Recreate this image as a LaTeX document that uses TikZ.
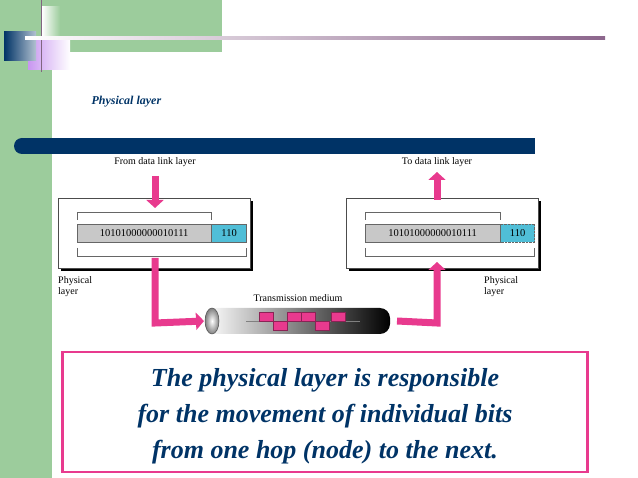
\documentclass[tikz,border=0pt]{standalone}
\usepackage{fontspec}
\setmainfont{Liberation Serif}
\usetikzlibrary{arrows.meta,shadings}
\definecolor{grn}{RGB}{156,204,156}
\definecolor{navy}{RGB}{0,51,102}
\definecolor{pnk}{RGB}{232,58,142}
\definecolor{cyn}{RGB}{80,190,215}
\definecolor{gry}{RGB}{200,200,200}
\definecolor{lav}{RGB}{200,150,240}
\tikzset{
  pkarrow/.style={draw=pnk,line width=7pt,-{Triangle[length=8pt,width=17pt]}},
  lbl/.style={font=\fontsize{10}{11}\selectfont,inner sep=0pt},
  layerbox/.style={draw=black!70,fill=white,line width=0.6pt},
  shadow/.style={fill=black},
  bits/.style={draw=black!60,fill=gry,inner sep=0pt,minimum height=18pt,font=\fontsize{10.5}{11}\selectfont},
  crc/.style={draw=black!60,fill=cyn,inner sep=0pt,minimum height=18pt,font=\fontsize{10.5}{11}\selectfont},
  brk/.style={draw=black!60,line width=0.5pt},
  sig/.style={fill=pnk,draw=pnk!60!black,line width=0.3pt}
}
\begin{document}
\begin{tikzpicture}[x=1pt,y=-1pt]
\useasboundingbox (0,0) rectangle (638,478);
% decoration
\fill[grn] (0,0) rectangle (52,478);
\fill[grn] (0,0) rectangle (222,52);
\shade[left color=white,right color=grn] (42,7) rectangle (60,38);
\shade[left color=lav,right color=white] (28,40) rectangle (70,70);
\shade[left color=navy,right color=navy!30] (4,32) rectangle (36,61);
\draw[gray!80!violet,line width=1pt] (41,0) -- (41,72);
\shade[left color=white,right color=black!50!violet!60] (25,37) rectangle (605,39.5);
\node[anchor=west,font=\bfseries\itshape\fontsize{12}{14}\selectfont,text=navy] (title) at (88,102) {Physical layer};
\fill[navy] (22,138) rectangle (535,154);
\fill[navy] (22,146) circle (8);
% labels
\node[lbl] (from) at (155,162) {From data link layer};
\node[lbl] (to) at (437,162) {To data link layer};
% boxes
\fill[shadow] (61,201) rectangle (253,271);
\node[layerbox,minimum width=192pt,minimum height=70pt,inner sep=0pt] (lbox) at (154,233) {};
\fill[shadow] (349,201) rectangle (541,271);
\node[layerbox,minimum width=192pt,minimum height=70pt,inner sep=0pt] (rbox) at (442,233) {};
% left data
\node[bits,minimum width=134pt,anchor=west] (lb) at (77,233) {10101000000010111};
\node[crc,minimum width=35pt,anchor=west] (lc) at (lb.east) {110};
\draw[brk] (77,220) -- (77,212) -- (211,212) -- (211,220);
\draw[brk] (77,248) -- (77,256) -- (246,256) -- (246,248);
% right data
\node[bits,minimum width=135pt,anchor=west] (rb) at (365,233) {10101000000010111};
\node[crc,minimum width=34pt,anchor=west,densely dotted] (rc) at (rb.east) {110};
\draw[brk] (365,220) -- (365,212) -- (500,212) -- (500,220);
\draw[brk] (365,248) -- (365,256) -- (534,256) -- (534,248);
% layer labels
\node[lbl,anchor=north west,align=left] (pl) at (58,276) {Physical\\layer};
\node[lbl,anchor=north west,align=left] (pr) at (484,276) {Physical\\layer};
\node[lbl] (tm) at (298,298) {Transmission medium};
% tube
\shade[left color=white,right color=black,rounded corners=10pt] (206,308) rectangle (390,334);
\shade[inner color=white,outer color=gray] (212,321) ellipse (7 and 13);
\draw[black!70,line width=0.5pt] (212,321) ellipse (7 and 13);
\coordinate (tubeL) at (204,321);
\coordinate (tubeR) at (397,321);
\draw[black!50,line width=0.4pt] (246,321) -- (360,321);
\fill[sig] (259,312) rectangle (273,321);
\fill[sig] (273,321) rectangle (287,330);
\fill[sig] (287,312) rectangle (301,321);
\fill[sig] (301,312) rectangle (315,321);
\fill[sig] (315,321) rectangle (329,330);
\fill[sig] (331,312) rectangle (345,321);
% arrows
\coordinate (lin) at (155,208);
\coordinate (rout) at (437,200);
\draw[pkarrow] (155,176) -- (lin);
\draw[pkarrow] (155,258) -- (155,323) -- (tubeL);
\draw[pkarrow] (tubeR) -- (437,323) -- (437,262);
\draw[pkarrow] (rout) -- (437,172);
% bottom box
\node[draw=pnk,line width=2.5pt,minimum width=525pt,minimum height=120pt,inner sep=0pt] (msg) at (325,412) {};
\node[align=center,font=\bfseries\itshape\fontsize{26}{36}\selectfont,text=navy] (msgt) at (325,416)
  {The physical layer is responsible\\for the movement of individual bits\\from one hop (node) to the next.};
\end{tikzpicture}
\end{document}
